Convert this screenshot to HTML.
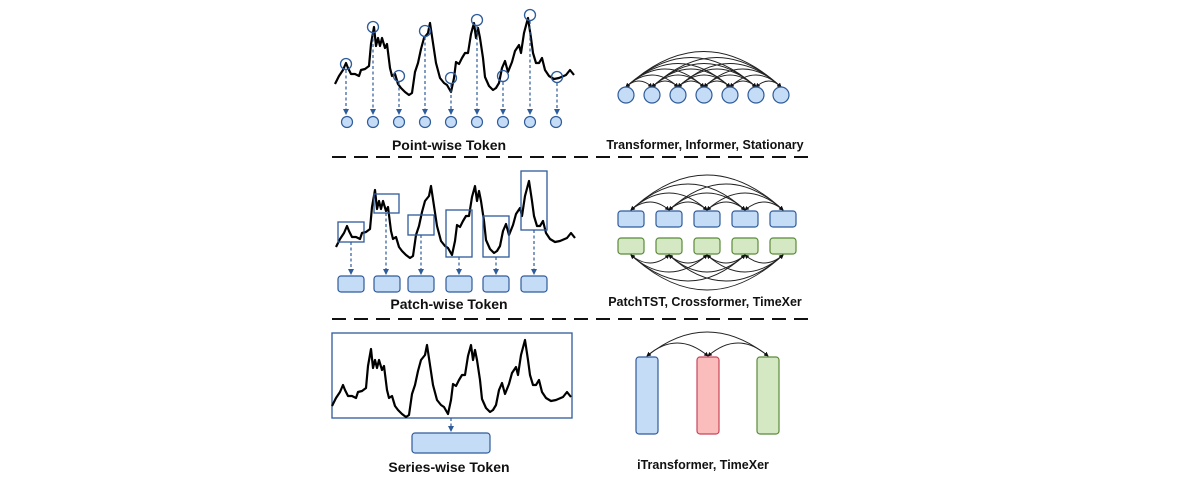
<!DOCTYPE html>
<html><head><meta charset="utf-8"><style>
html,body{margin:0;padding:0;background:#fff;}
svg{display:block;}
text{font-family:"Liberation Sans",sans-serif;font-weight:bold;fill:#111;text-anchor:middle;}
</style></head><body>
<svg width="1187" height="494" viewBox="0 0 1187 494" xmlns="http://www.w3.org/2000/svg">
<defs>
<marker id="ah" viewBox="0 0 6 6" refX="5" refY="3" markerWidth="5" markerHeight="5" orient="auto-start-reverse"><path d="M0,0L6,3L0,6z" fill="#111"/></marker>
<marker id="bh" viewBox="0 0 6 6" refX="5" refY="3" markerWidth="5" markerHeight="5" orient="auto"><path d="M0,0L6,3L0,6z" fill="#2e5b9a"/></marker>
<polyline id="ser" fill="none" stroke="#000" stroke-width="2.2" stroke-linejoin="round" points="332,406 336,398 340,392 343,385 345,390 348,396 352,396 356,398 358,392 362,391 366,388 368,366 371,349 373,368 375,360 377,368 379,360 382,370 384,366 387,390 389,398 392,396 395,406 398,410 402,414 406,417 409,415 412,394 415,385 418,371 421,360 425,355 427,345 430,365 433,385 437,400 441,405 444,407 448,414 451,400 453,384 456,386 459,380 462,375 465,375 468,356 471,345 473,360 475,350 477,360 480,380 482,399 486,408 490,412 493,410 496,405 499,390 502,383 505,394 509,384 512,373 516,367 518,375 521,355 525,340 528,360 530,375 533,385 536,385 539,380 542,392 546,398 551,401 556,400 563,397 567,392 571,397"/>
</defs>

<!-- separators -->
<line x1="332" y1="157" x2="815" y2="157" stroke="#111" stroke-width="2" stroke-dasharray="14,8"/>
<line x1="332" y1="319" x2="815" y2="319" stroke="#111" stroke-width="2" stroke-dasharray="14,8"/>

<!-- TOP LEFT -->
<use href="#ser" transform="translate(3,-322)"/>
<g fill="none" stroke="#2e5b9a" stroke-width="1.3">
<circle cx="346" cy="64" r="5.5"/><circle cx="373" cy="27" r="5.5"/><circle cx="399" cy="76" r="5.5"/><circle cx="425" cy="31" r="5.5"/><circle cx="451" cy="78" r="5.5"/><circle cx="477" cy="20" r="5.5"/><circle cx="503" cy="76" r="5.5"/><circle cx="530" cy="15" r="5.5"/><circle cx="557" cy="77" r="5.5"/>
</g>
<g stroke="#2e5b9a" stroke-width="1.2" stroke-dasharray="3,2.5" marker-end="url(#bh)">
<line x1="346" y1="70" x2="346" y2="114"/><line x1="373" y1="33" x2="373" y2="114"/><line x1="399" y1="82" x2="399" y2="114"/><line x1="425" y1="37" x2="425" y2="114"/><line x1="451" y1="84" x2="451" y2="114"/><line x1="477" y1="26" x2="477" y2="114"/><line x1="503" y1="82" x2="503" y2="114"/><line x1="530" y1="21" x2="530" y2="114"/><line x1="557" y1="83" x2="557" y2="114"/>
</g>
<g fill="#c5dcf7" stroke="#2e5b9a" stroke-width="1.2">
<circle cx="347" cy="122" r="5.5"/><circle cx="373" cy="122" r="5.5"/><circle cx="399" cy="122" r="5.5"/><circle cx="425" cy="122" r="5.5"/><circle cx="451" cy="122" r="5.5"/><circle cx="477" cy="122" r="5.5"/><circle cx="503" cy="122" r="5.5"/><circle cx="530" cy="122" r="5.5"/><circle cx="556" cy="122" r="5.5"/>
</g>
<text x="449" y="150" font-size="14">Point-wise Token</text>

<!-- TOP RIGHT -->
<g fill="none" stroke="#222" stroke-width="0.9" marker-start="url(#ah)" marker-end="url(#ah)">
<path d="M626,87 Q639,75 652,87"/><path d="M652,87 Q665,75 678,87"/><path d="M678,87 Q691,75 704,87"/><path d="M704,87 Q717,75 730,87"/><path d="M730,87 Q743,75 756,87"/><path d="M756,87 Q769,75 781,87"/>
<path d="M626,87 Q652,63 678,87"/><path d="M652,87 Q678,63 704,87"/><path d="M678,87 Q704,63 730,87"/><path d="M704,87 Q730,63 756,87"/><path d="M730,87 Q756,63 781,87"/>
<path d="M626,87 Q665,51 704,87"/><path d="M652,87 Q691,51 730,87"/><path d="M678,87 Q717,51 756,87"/><path d="M704,87 Q743,51 781,87"/>
<path d="M626,87 Q678,40 730,87"/><path d="M652,87 Q704,40 756,87"/><path d="M678,87 Q730,40 781,87"/>
<path d="M626,87 Q691,28 756,87"/><path d="M652,87 Q717,28 781,87"/>
<path d="M626,87 Q704,16 781,87"/>
</g>
<g fill="#c5dcf7" stroke="#2e5b9a" stroke-width="1.2">
<circle cx="626" cy="95" r="8"/><circle cx="652" cy="95" r="8"/><circle cx="678" cy="95" r="8"/><circle cx="704" cy="95" r="8"/><circle cx="730" cy="95" r="8"/><circle cx="756" cy="95" r="8"/><circle cx="781" cy="95" r="8"/>
</g>
<text x="705" y="149" font-size="12.5">Transformer, Informer, Stationary</text>

<!-- MIDDLE LEFT -->
<use href="#ser" transform="translate(4,-159)"/>
<g fill="none" stroke="#2e5b9a" stroke-width="1.3">
<rect x="338" y="222" width="26" height="20"/><rect x="374" y="194" width="25" height="19"/><rect x="408" y="215" width="26" height="20"/><rect x="446" y="210" width="26" height="47"/><rect x="483" y="216" width="26" height="41"/><rect x="521" y="171" width="26" height="59"/>
</g>
<g stroke="#2e5b9a" stroke-width="1.2" stroke-dasharray="3,2.5" marker-end="url(#bh)">
<line x1="351" y1="242" x2="351" y2="274"/><line x1="386" y1="213" x2="386" y2="274"/><line x1="421" y1="235" x2="421" y2="274"/><line x1="459" y1="257" x2="459" y2="274"/><line x1="496" y1="257" x2="496" y2="274"/><line x1="534" y1="230" x2="534" y2="274"/>
</g>
<g fill="#c5dcf7" stroke="#2e5b9a" stroke-width="1.2">
<rect x="338" y="276" width="26" height="16" rx="3"/><rect x="374" y="276" width="26" height="16" rx="3"/><rect x="408" y="276" width="26" height="16" rx="3"/><rect x="446" y="276" width="26" height="16" rx="3"/><rect x="483" y="276" width="26" height="16" rx="3"/><rect x="521" y="276" width="26" height="16" rx="3"/>
</g>
<text x="449" y="309" font-size="14">Patch-wise Token</text>

<!-- MIDDLE RIGHT -->
<g fill="none" stroke="#222" stroke-width="0.9" marker-start="url(#ah)" marker-end="url(#ah)">
<path d="M631,210 Q650,194 669,210"/><path d="M669,210 Q688,194 707,210"/><path d="M707,210 Q726,194 745,210"/><path d="M745,210 Q764,194 783,210"/>
<path d="M631,210 Q669,176 707,210"/><path d="M669,210 Q707,176 745,210"/><path d="M707,210 Q745,176 783,210"/>
<path d="M631,210 Q688,158 745,210"/><path d="M669,210 Q726,158 783,210"/>
<path d="M631,210 Q707,140 783,210"/>
<path d="M631,255 Q650,271 669,255"/><path d="M669,255 Q688,271 707,255"/><path d="M707,255 Q726,271 745,255"/><path d="M745,255 Q764,271 783,255"/>
<path d="M631,255 Q669,289 707,255"/><path d="M669,255 Q707,289 745,255"/><path d="M707,255 Q745,289 783,255"/>
<path d="M631,255 Q688,307 745,255"/><path d="M669,255 Q726,307 783,255"/>
<path d="M631,255 Q707,325 783,255"/>
</g>
<g fill="#c5dcf7" stroke="#2e5b9a" stroke-width="1.2">
<rect x="618" y="211" width="26" height="16" rx="3"/><rect x="656" y="211" width="26" height="16" rx="3"/><rect x="694" y="211" width="26" height="16" rx="3"/><rect x="732" y="211" width="26" height="16" rx="3"/><rect x="770" y="211" width="26" height="16" rx="3"/>
</g>
<g fill="#d5e8c4" stroke="#5a8a3a" stroke-width="1.2">
<rect x="618" y="238" width="26" height="16" rx="3"/><rect x="656" y="238" width="26" height="16" rx="3"/><rect x="694" y="238" width="26" height="16" rx="3"/><rect x="732" y="238" width="26" height="16" rx="3"/><rect x="770" y="238" width="26" height="16" rx="3"/>
</g>
<text x="705" y="306" font-size="12.5">PatchTST, Crossformer, TimeXer</text>

<!-- BOTTOM LEFT -->
<rect x="332" y="333" width="240" height="85" fill="none" stroke="#2e5b9a" stroke-width="1.3"/>
<use href="#ser"/>
<line x1="451" y1="418" x2="451" y2="431" stroke="#2e5b9a" stroke-width="1.2" stroke-dasharray="3,2.5" marker-end="url(#bh)"/>
<rect x="412" y="433" width="78" height="20" rx="3" fill="#c5dcf7" stroke="#2e5b9a" stroke-width="1.2"/>
<text x="449" y="472" font-size="14">Series-wise Token</text>

<!-- BOTTOM RIGHT -->
<g fill="none" stroke="#222" stroke-width="0.9" marker-start="url(#ah)" marker-end="url(#ah)">
<path d="M647,356 Q677,330 708,356"/><path d="M708,356 Q738,330 768,356"/><path d="M647,356 Q707,308 768,356"/>
</g>
<rect x="636" y="357" width="22" height="77" rx="3" fill="#c5dcf7" stroke="#2e5b9a" stroke-width="1.2"/>
<rect x="697" y="357" width="22" height="77" rx="3" fill="#fbbcbc" stroke="#c8445a" stroke-width="1.2"/>
<rect x="757" y="357" width="22" height="77" rx="3" fill="#d5e8c4" stroke="#5a8a3a" stroke-width="1.2"/>
<text x="703" y="469" font-size="12.5">iTransformer, TimeXer</text>
</svg>
</body></html>
